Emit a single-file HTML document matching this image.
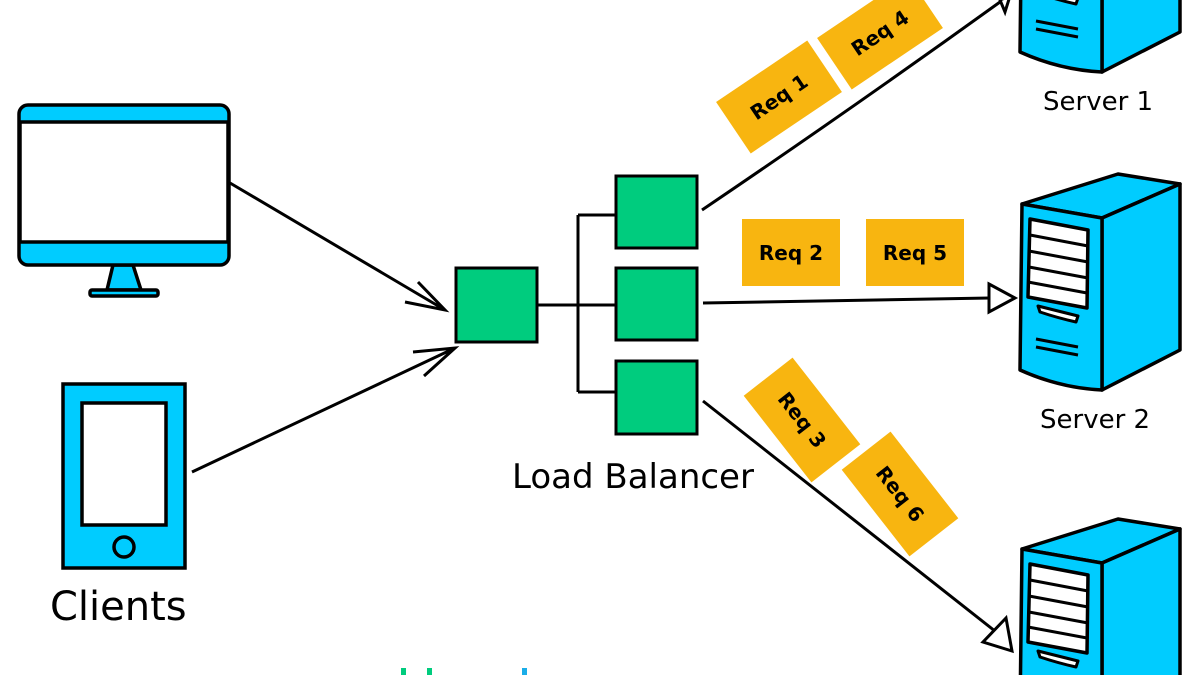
<!DOCTYPE html>
<html><head><meta charset="utf-8"><style>
html,body{margin:0;padding:0;background:#fff;width:1200px;height:675px;overflow:hidden;}
svg{display:block;}
text{font-family:"DejaVu Sans","Liberation Sans",sans-serif;}
</style></head><body>
<svg width="1200" height="675" viewBox="0 0 1200 675" xmlns="http://www.w3.org/2000/svg">
<defs>
<g id="srv" stroke="#000" stroke-width="3.5" stroke-linejoin="round">
<path d="M1022,204 L1118,174 L1180,184 L1102,218 Z" fill="#00CCFF"/>
<path d="M1102,218 L1180,184 L1180,350 L1102,390 Z" fill="#00CCFF"/>
<path d="M1022,204 L1102,218 L1102,390 Q1060,388 1020,370 Z" fill="#00CCFF"/>
<path d="M1030,219 L1088,230 L1087,308 L1028,297 Z" fill="#fff"/>
<path d="M1030,235 L1088,246 M1029,251 L1088,262 M1029,267 L1088,278 M1028,282 L1087,293" fill="none" stroke-width="3"/>
<path d="M1038,306 L1078,316 L1076,322 Q1058,318 1040,312 Z" fill="#fff" stroke-width="3"/>
<path d="M1036,339 L1078,347 M1036,347 L1078,355" fill="none" stroke-width="3"/>
</g>
</defs>

<g stroke="#000" stroke-width="3.5">
<path d="M113,265 L133,265 L141,290 L107,290 Z" fill="#00CCFF"/>
<rect x="90" y="290" width="68" height="6" rx="2" fill="#00CCFF"/>
<rect x="19" y="105" width="210" height="160" rx="9" fill="#00CCFF"/>
<rect x="20" y="122" width="208" height="120" fill="#fff"/>
</g>
<g stroke="#000" stroke-width="3.5">
<rect x="63" y="384" width="122" height="184" fill="#00CCFF"/>
<rect x="82" y="403" width="84" height="122" fill="#fff"/>
<circle cx="124" cy="547" r="10" fill="#00CCFF"/>
</g>
<text x="50" y="620" font-size="40">Clients</text>

<g stroke="#000" stroke-width="3" fill="none">
<path d="M230,183 L445,310 M418,282 L445,310 L405,302"/>
<path d="M192,472 L455,348 M413,352 L455,348 L424,376"/>
</g>

<g stroke="#000" stroke-width="3" fill="none">
<path d="M537,305 L616,305 M578,215 L578,392 M578,215 L616,215 M578,392 L616,392"/>
</g>
<g stroke="#000" stroke-width="3" fill="#00CC7E">
<rect x="456" y="268" width="81" height="74"/>
<rect x="616" y="176" width="81" height="72"/>
<rect x="616" y="268" width="81" height="72"/>
<rect x="616" y="361" width="81" height="73"/>
</g>
<text x="512" y="488" font-size="34">Load Balancer</text>

<g fill="#F8B510" font-size="20" font-weight="bold">
<g transform="translate(779,97) rotate(-34)"><rect x="-55" y="-31" width="110" height="62"/><text x="0" y="7" text-anchor="middle" fill="#000">Req 1</text></g>
<g transform="translate(880,33) rotate(-34)"><rect x="-55" y="-31" width="110" height="62"/><text x="0" y="7" text-anchor="middle" fill="#000">Req 4</text></g>
<rect x="742" y="219" width="98" height="67"/><text x="791" y="260" text-anchor="middle" fill="#000">Req 2</text>
<rect x="866" y="219" width="98" height="67"/><text x="915" y="260" text-anchor="middle" fill="#000">Req 5</text>
<g transform="translate(802,420) rotate(52)"><rect x="-55" y="-31" width="110" height="62"/><text x="0" y="7" text-anchor="middle" fill="#000">Req 3</text></g>
<g transform="translate(900,494) rotate(52)"><rect x="-55" y="-31" width="110" height="62"/><text x="0" y="7" text-anchor="middle" fill="#000">Req 6</text></g>
</g>

<g stroke="#000" stroke-width="3" fill="none">
<path d="M702,210 Q850,110 1000,2"/>
<path d="M703,303 L990,298"/>
<path d="M703,401 L1000,635"/>
</g>
<g stroke="#000" stroke-width="3" fill="#fff">
<path d="M989,284 L1015,298 L989,312 Z"/>
<path d="M1006,618 L1012,651 L983,642 Z"/>
<path d="M1000,0 L1010,-4 L1005,12 Z"/>
</g>

<use href="#srv" transform="translate(0,-318)"/>
<use href="#srv"/>
<use href="#srv" transform="translate(0,345)"/>
<text x="1043" y="110" font-size="26">Server 1</text>
<text x="1040" y="428" font-size="26">Server 2</text>

<g fill="#00CC7E"><rect x="401" y="668" width="5" height="7"/><rect x="427" y="668" width="5" height="7"/></g>
<rect x="522" y="668" width="5" height="7" fill="#1AADE8"/>
</svg>
</body></html>
